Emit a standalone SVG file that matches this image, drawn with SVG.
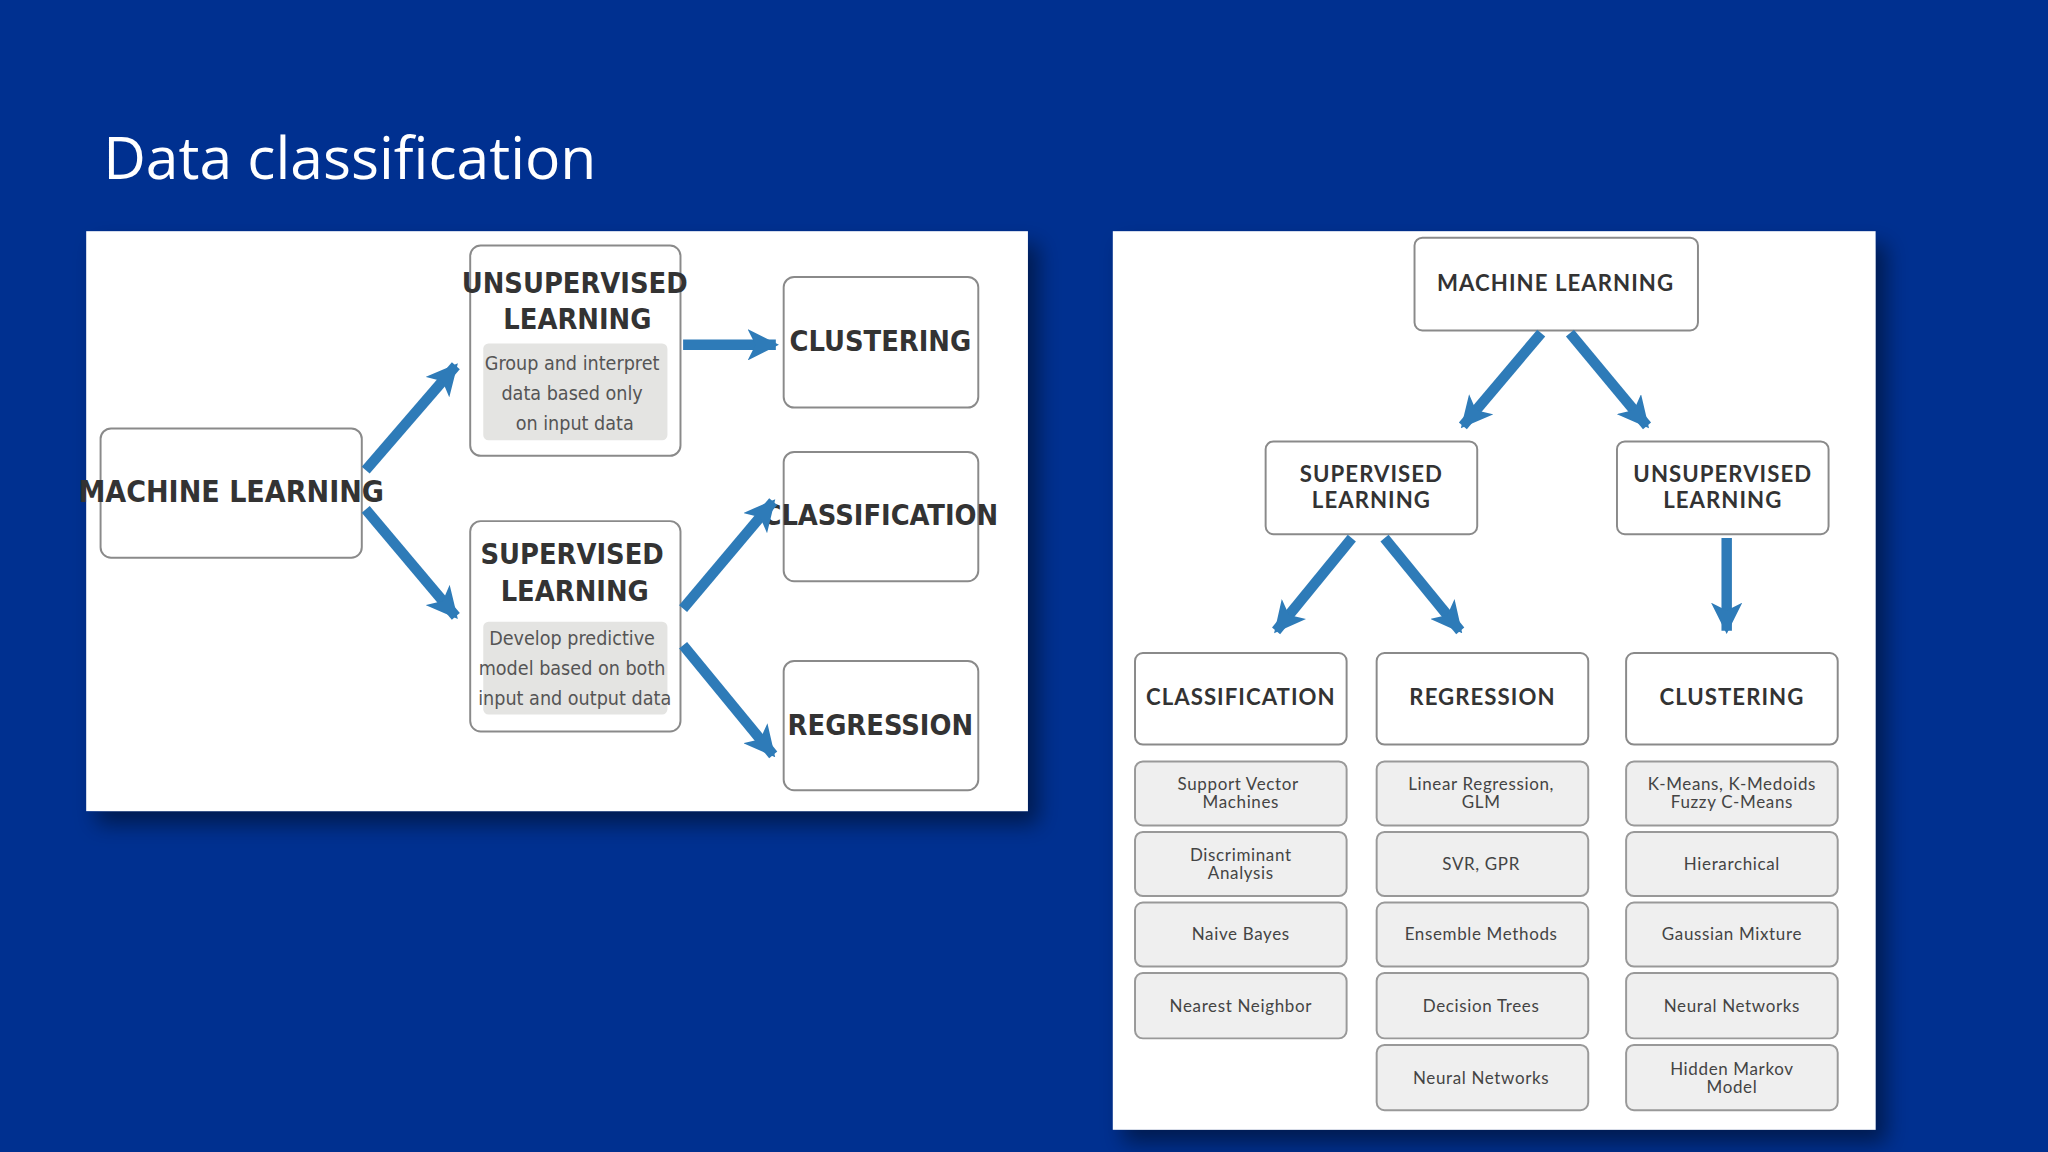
<svg xmlns="http://www.w3.org/2000/svg" width="2048" height="1152" viewBox="0 0 2048 1152">
<defs>
<marker id="ah" viewBox="0 0 10 10" refX="9" refY="5" markerWidth="3" markerHeight="3" markerUnits="strokeWidth" orient="auto"><path d="M0,0 L10,5 L0,10 L2.5,5 Z" fill="#2e7bb8"/></marker>
<filter id="sh" x="-5%" y="-5%" width="115%" height="115%"><feDropShadow dx="8" dy="10" stdDeviation="8" flood-color="#000" flood-opacity="0.45"/></filter>
</defs>
<style>
.box{fill:#fff;stroke:#8a8a8a;stroke-width:1.5}
.inner{fill:#e4e4e2;stroke:none}
.item{fill:#efefef;stroke:#999;stroke-width:1.5}
.lt{font-family:"DejaVu Sans Condensed","Liberation Sans Narrow","Liberation Sans",sans-serif;font-stretch:condensed;font-weight:bold;fill:#333;text-anchor:middle}
.ls{font-family:"DejaVu Sans Condensed","Liberation Sans Narrow","Liberation Sans",sans-serif;font-stretch:condensed;fill:#555;text-anchor:middle;font-size:15px}
.rt{font-family:Lato,"DejaVu Sans",sans-serif;font-weight:bold;fill:#333;text-anchor:middle;font-size:17px;letter-spacing:0.8px}
.ri{font-family:Lato,"DejaVu Sans",sans-serif;fill:#444;text-anchor:middle;font-size:13px;letter-spacing:0.5px}
.ar{stroke:#2e7bb8;stroke-width:8;fill:none;marker-end:url(#ah)}
</style>
<rect width="2048" height="1152" fill="#003090"/>
<g transform="scale(1.30612)">
<text x="79" y="137" font-family="'Open Sans','Liberation Sans',sans-serif" font-size="45" fill="#fff">Data classification</text>
<g id="left-panel">
<rect x="66" y="177" width="721" height="444" fill="#fff" filter="url(#sh)"/>
<g id="l-ml"><rect class="box" x="77" y="328" width="200" height="99" rx="8"/><text class="lt" x="177" y="384" font-size="23">MACHINE LEARNING</text></g>
<g id="l-unsup"><rect class="box" x="360" y="188" width="161" height="161" rx="8"/><text class="lt" x="440" y="224" font-size="22">UNSUPERVISED</text><text class="lt" x="442" y="252" font-size="22">LEARNING</text><rect class="inner" x="370" y="263" width="141" height="74" rx="4"/><text class="ls" x="438" y="283">Group and interpret</text><text class="ls" x="438" y="306">data based only</text><text class="ls" x="440" y="329">on input data</text></g>
<g id="l-sup"><rect class="box" x="360" y="399" width="161" height="161" rx="8"/><text class="lt" x="438" y="432" font-size="22">SUPERVISED</text><text class="lt" x="440" y="460" font-size="22">LEARNING</text><rect class="inner" x="370" y="476" width="141" height="71" rx="4"/><text class="ls" x="438" y="494">Develop predictive</text><text class="ls" x="438" y="517">model based on both</text><text class="ls" x="440" y="540">input and output data</text></g>
<g id="l-clu"><rect class="box" x="600" y="212" width="149" height="100" rx="8"/><text class="lt" x="674" y="269" font-size="22">CLUSTERING</text></g>
<g id="l-cla"><rect class="box" x="600" y="346" width="149" height="99" rx="8"/><text class="lt" x="674" y="402" font-size="22">CLASSIFICATION</text></g>
<g id="l-reg"><rect class="box" x="600" y="506" width="149" height="99" rx="8"/><text class="lt" x="674" y="563" font-size="22">REGRESSION</text></g>
</g>
<g id="right-panel">
<rect x="852" y="177" width="584" height="688" fill="#fff" filter="url(#sh)"/>
<g id="r-ml"><rect class="box" x="1083" y="182" width="217" height="71" rx="6"/><text class="rt" x="1191" y="223">MACHINE LEARNING</text></g>
<g id="r-sup"><rect class="box" x="969" y="338" width="162" height="71" rx="6"/><text class="rt" x="1050" y="369">SUPERVISED</text><text class="rt" x="1050" y="389">LEARNING</text></g>
<g id="r-unsup"><rect class="box" x="1238" y="338" width="162" height="71" rx="6"/><text class="rt" x="1319" y="369">UNSUPERVISED</text><text class="rt" x="1319" y="389">LEARNING</text></g>
<g id="r-cla"><rect class="box" x="869" y="500" width="162" height="70" rx="6"/><text class="rt" x="950" y="540">CLASSIFICATION</text></g>
<g id="r-reg"><rect class="box" x="1054" y="500" width="162" height="70" rx="6"/><text class="rt" x="1135" y="540">REGRESSION</text></g>
<g id="r-clu"><rect class="box" x="1245" y="500" width="162" height="70" rx="6"/><text class="rt" x="1326" y="540">CLUSTERING</text></g>
<g id="r-items">
<rect class="item" x="869" y="583" width="162" height="49" rx="6"/><text class="ri" x="948" y="605">Support Vector</text><text class="ri" x="950" y="619">Machines</text>
<rect class="item" x="869" y="637" width="162" height="49" rx="6"/><text class="ri" x="950" y="659">Discriminant</text><text class="ri" x="950" y="673">Analysis</text>
<rect class="item" x="869" y="691" width="162" height="49" rx="6"/><text class="ri" x="950" y="720">Naive Bayes</text>
<rect class="item" x="869" y="745" width="162" height="50" rx="6"/><text class="ri" x="950" y="775">Nearest Neighbor</text>
<rect class="item" x="1054" y="583" width="162" height="49" rx="6"/><text class="ri" x="1134" y="605">Linear Regression,</text><text class="ri" x="1134" y="619">GLM</text>
<rect class="item" x="1054" y="637" width="162" height="49" rx="6"/><text class="ri" x="1134" y="666">SVR, GPR</text>
<rect class="item" x="1054" y="691" width="162" height="49" rx="6"/><text class="ri" x="1134" y="720">Ensemble Methods</text>
<rect class="item" x="1054" y="745" width="162" height="50" rx="6"/><text class="ri" x="1134" y="775">Decision Trees</text>
<rect class="item" x="1054" y="800" width="162" height="50" rx="6"/><text class="ri" x="1134" y="830">Neural Networks</text>
<rect class="item" x="1245" y="583" width="162" height="49" rx="6"/><text class="ri" x="1326" y="605">K-Means, K-Medoids</text><text class="ri" x="1326" y="619">Fuzzy C-Means</text>
<rect class="item" x="1245" y="637" width="162" height="49" rx="6"/><text class="ri" x="1326" y="666">Hierarchical</text>
<rect class="item" x="1245" y="691" width="162" height="49" rx="6"/><text class="ri" x="1326" y="720">Gaussian Mixture</text>
<rect class="item" x="1245" y="745" width="162" height="50" rx="6"/><text class="ri" x="1326" y="775">Neural Networks</text>
<rect class="item" x="1245" y="800" width="162" height="50" rx="6"/><text class="ri" x="1326" y="823">Hidden Markov</text><text class="ri" x="1326" y="837">Model</text>
</g>
</g>
<g id="connectors">
<line class="ar" x1="280" y1="360" x2="349" y2="280"/>
<line class="ar" x1="280" y1="390" x2="349" y2="472"/>
<line class="ar" x1="523" y1="264" x2="594" y2="264"/>
<line class="ar" x1="523" y1="466" x2="592" y2="384"/>
<line class="ar" x1="523" y1="494" x2="592" y2="578"/>
<line class="ar" x1="1180" y1="255" x2="1120" y2="326"/>
<line class="ar" x1="1202" y1="255" x2="1261" y2="326"/>
<line class="ar" x1="1035" y1="412" x2="977" y2="483"/>
<line class="ar" x1="1060" y1="412" x2="1118" y2="483"/>
<line class="ar" x1="1322" y1="412" x2="1322" y2="483"/>
</g>
</g>
</svg>
